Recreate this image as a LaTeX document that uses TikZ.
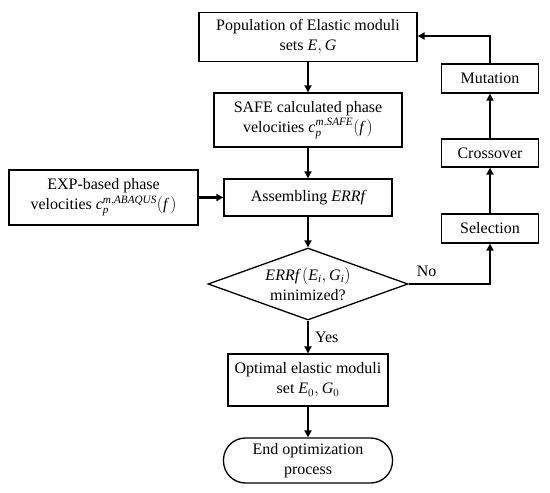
\documentclass[tikz,border=0pt]{standalone}
\usepackage{fontspec}
\setmainfont{Liberation Serif}
\usetikzlibrary{arrows.meta,shapes.geometric,calc}
\newcommand{\mi}[1]{\mathit{#1}}
\begin{document}
\begin{tikzpicture}[x=1pt,y=-1pt,
  every node/.style={font=\fontsize{16}{20}\selectfont, align=center, inner sep=0pt},
  box/.style={draw, line width=1.3pt, fill=white},
  dec/.style={draw, line width=1.3pt, diamond, aspect=2.78, minimum width=200pt, minimum height=72pt},
  term/.style={draw, line width=1.3pt, rounded corners=22pt},
  flow/.style={line width=2.3pt, -{Triangle[length=7pt,width=7pt]}},
  lab/.style={font=\fontsize{16}{20}\selectfont}]
\useasboundingbox (0,0) rectangle (550,493);
\node[box, minimum width=218pt, minimum height=49pt] (pop) at (308,37) {Population of Elastic moduli\\sets $\mi{E}, \mi{G}$};
\node[box, minimum width=188pt, minimum height=54pt] (safe) at (308,120) {SAFE calculated phase\\velocities $\mi{c}_{\mi{p}}^{\mi{m},\mi{SAFE}}(\mi{f}\,)$};
\node[box, minimum width=189pt, minimum height=55pt] (exp) at (103.5,197.5) {EXP-based phase\\velocities $\mi{c}_{\mi{p}}^{\mi{m},\mi{ABAQUS}}(\mi{f}\,)$};
\node[box, minimum width=168pt, minimum height=37pt] (asm) at (308,197.5) {Assembling $\mi{ERRf}$};
\node[dec] (dia) at (308,284) {$\mi{ERRf}\,(\mi{E}_{\mi{i}}, \mi{G}_{\mi{i}})$\\minimized?};
\node[box, minimum width=160pt, minimum height=52pt] (opt) at (308,380) {Optimal elastic moduli\\set $\mi{E}_0, \mi{G}_0$};
\node[term, minimum width=169pt, minimum height=45pt] (end) at (308,460.5) {End optimization\\process};
\node[box, minimum width=97pt, minimum height=29pt] (mut) at (490,78.5) {Mutation};
\node[box, minimum width=97pt, minimum height=28pt] (cro) at (490,153) {Crossover};
\node[box, minimum width=97pt, minimum height=29pt] (sel) at (490,228.5) {Selection};
\coordinate (noc) at (490,284);
\coordinate (fbc) at (490,36);
\draw[flow] (pop) -- (safe);
\draw[flow] (safe) -- (asm);
\draw[flow] (exp) -- (asm);
\draw[flow] (asm) -- (dia);
\draw[flow] (dia) -- node[right=6pt, lab] {Yes} (opt);
\draw[flow] (opt) -- (end);
\draw[flow] (dia.east) -- node[above=6pt, pos=0.22, lab] {No} (noc) -- (sel);
\draw[flow] (sel) -- (cro);
\draw[flow] (cro) -- (mut);
\draw[flow] (mut) -- (fbc) -- (pop.east |- fbc);
\end{tikzpicture}
\end{document}
